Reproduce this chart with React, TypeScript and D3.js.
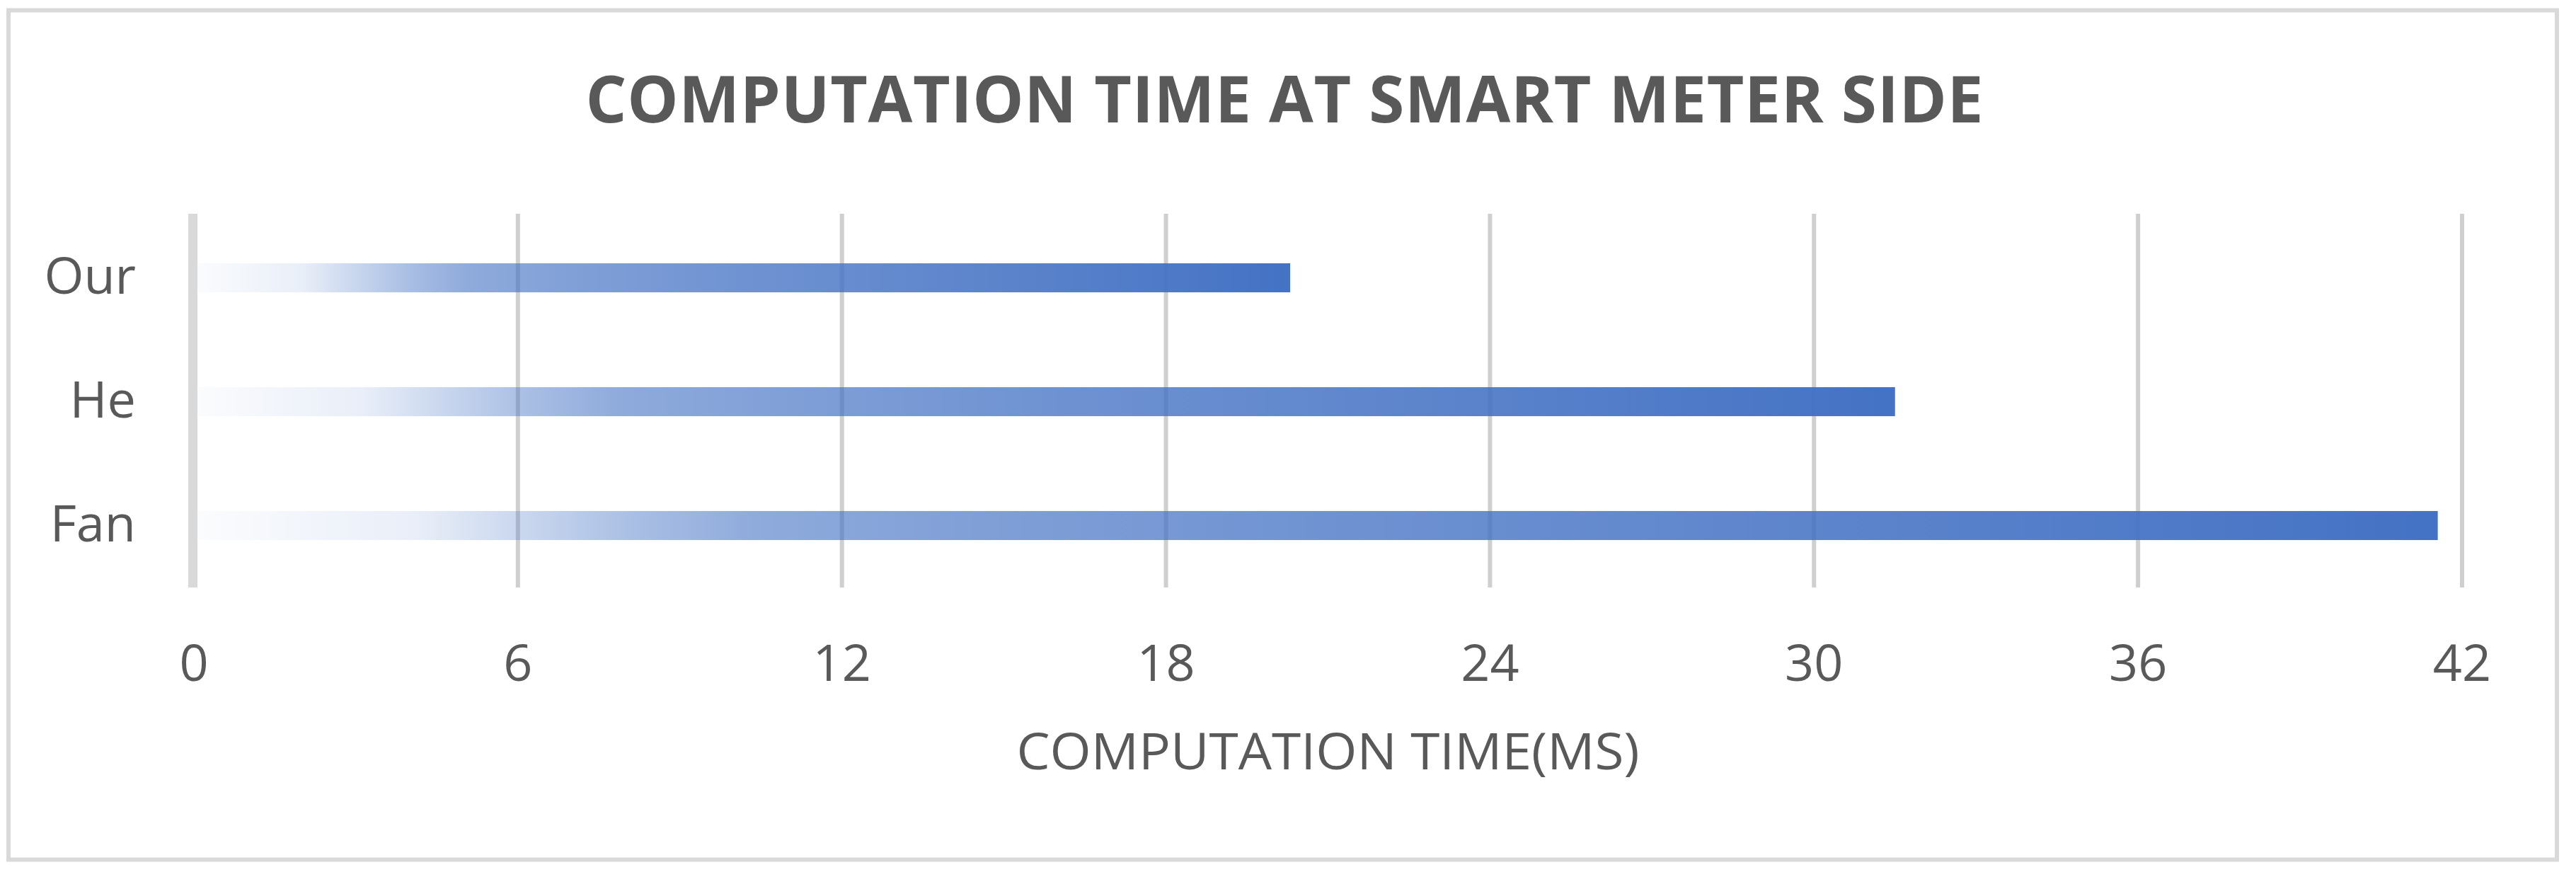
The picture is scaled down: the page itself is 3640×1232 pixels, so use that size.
import React, { useEffect, useRef } from "react";
import * as d3 from "d3";

// chart values
const categories = ["Our", "He", "Fan"];
const computationTimes = [20.3, 31.5, 41.55];
const tickValues = [0, 6, 12, 18, 24, 30, 36, 42];

const titleText = "COMPUTATION TIME AT SMART METER SIDE";
const axisTitleText = "COMPUTATION TIME(MS)";

function App() {
    const svgRef = useRef<SVGSVGElement | null>(null);

    useEffect(() => {
        document.body.style.margin = "0";

        const width = 3640;
        const height = 1232;
        const textColor = "#595959";
        const font = "'Open Sans', 'DejaVu Sans', sans-serif";

        const svg = d3.select(svgRef.current);
        svg.selectAll("*").remove();

        svg.attr("width", width).attr("height", height);

        svg.append("rect")
            .attr("width", width)
            .attr("height", height)
            .attr("fill", "#ffffff");

        // outer chart border
        svg.append("rect")
            .attr("x", 12)
            .attr("y", 14.5)
            .attr("width", 3601)
            .attr("height", 1200)
            .attr("fill", "none")
            .attr("stroke", "#d9d9d9")
            .attr("stroke-width", 6);

        const xScale = d3.scaleLinear().domain([0, 42]).range([274, 3479]);

        const yScale = d3.scaleBand()
            .domain(categories)
            .range([305, 830])
            .paddingInner(0.766)
            .paddingOuter(0.383);

        // gradient for bars (transparent -> blue)
        const defs = svg.append("defs");
        const grad = defs.append("linearGradient")
            .attr("id", "bar-gradient")
            .attr("x1", "0")
            .attr("x2", "1")
            .attr("y1", "0")
            .attr("y2", "0");

        const stops: [number, number][] = [
            [0, 0.02], [0.1, 0.12], [0.15, 0.3], [0.2, 0.47], [0.25, 0.6],
            [0.35, 0.68], [0.5, 0.77], [0.75, 0.88], [1, 1]
        ];
        stops.forEach(([o, a]) => {
            grad.append("stop")
                .attr("offset", `${o * 100}%`)
                .attr("stop-color", "#4472c4")
                .attr("stop-opacity", a);
        });

        // vertical gridlines
        svg.append("g")
            .selectAll("line")
            .data(tickValues.filter(t => t !== 0))
            .join("line")
            .attr("x1", d => xScale(d))
            .attr("x2", d => xScale(d))
            .attr("y1", 302)
            .attr("y2", 830)
            .attr("stroke", "#cfcfcf")
            .attr("stroke-width", 6);

        // bars
        svg.append("g")
            .selectAll("rect")
            .data(categories)
            .join("rect")
            .attr("x", xScale(0))
            .attr("y", d => yScale(d)!)
            .attr("width", (d, i) => xScale(computationTimes[i]) - xScale(0))
            .attr("height", yScale.bandwidth())
            .attr("fill", "url(#bar-gradient)");

        // category axis line
        svg.append("line")
            .attr("x1", xScale(0) - 1.5)
            .attr("x2", xScale(0) - 1.5)
            .attr("y1", 302)
            .attr("y2", 830)
            .attr("stroke", "#d9d9d9")
            .attr("stroke-width", 13);

        // category labels
        svg.append("g")
            .selectAll("text")
            .data(categories)
            .join("text")
            .attr("x", 192)
            .attr("y", d => yScale(d)! + yScale.bandwidth() / 2 + 22)
            .attr("text-anchor", "end")
            .attr("font-family", font)
            .attr("font-size", 72)
            .attr("fill", textColor)
            .text(d => d);

        // x tick labels
        svg.append("g")
            .selectAll("text")
            .data(tickValues)
            .join("text")
            .attr("x", d => xScale(d))
            .attr("y", 962)
            .attr("text-anchor", "middle")
            .attr("font-family", font)
            .attr("font-size", 72)
            .attr("fill", textColor)
            .text(d => d3.format("d")(d));

        // axis title
        svg.append("text")
            .attr("x", (xScale(0) + xScale(42)) / 2)
            .attr("y", 1087)
            .attr("text-anchor", "middle")
            .attr("font-family", font)
            .attr("font-size", 72)
            .attr("fill", textColor)
            .attr("textLength", 880)
            .attr("lengthAdjust", "spacingAndGlyphs")
            .text(axisTitleText);

        // chart title
        svg.append("text")
            .attr("x", 1815)
            .attr("y", 173)
            .attr("text-anchor", "middle")
            .attr("font-family", font)
            .attr("font-size", 91)
            .attr("font-weight", "bold")
            .attr("fill", textColor)
            .attr("textLength", 1975)
            .attr("lengthAdjust", "spacing")
            .text(titleText);
    }, []);

    return (
        <div>
            <svg ref={svgRef} style={{ display: "block" }}></svg>
        </div>
    );
}

export default App;
